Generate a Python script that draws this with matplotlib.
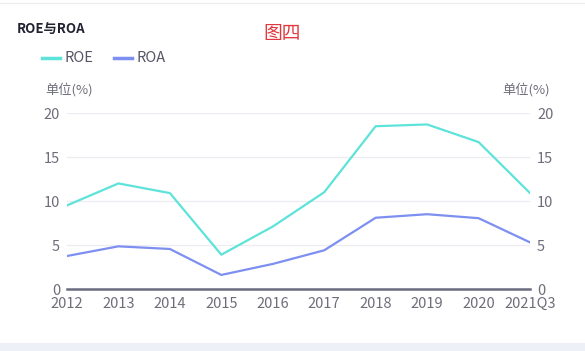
import matplotlib
matplotlib.use("Agg")
import matplotlib.pyplot as plt
from matplotlib.patches import Rectangle
from matplotlib.lines import Line2D

plt.rcParams['font.family'] = ['Noto Sans CJK SC', 'DejaVu Sans']

years = ['2012', '2013', '2014', '2015', '2016', '2017', '2018', '2019', '2020', '2021Q3']
roe = [9.5, 12.0, 10.9, 3.9, 7.1, 11.0, 18.5, 18.7, 16.7, 10.9]
roa = [3.75, 4.85, 4.55, 1.6, 2.85, 4.4, 8.1, 8.5, 8.05, 5.3]
yticks = [0, 5, 10, 15, 20]

c_roe = '#5de3d9'
c_roa = '#7d8ff0'
c_tick = '#6e6e7a'

fig = plt.figure(figsize=(5.85, 3.51), dpi=100)
ax = fig.add_axes([0.1145, 0.1766, 0.7915, 0.5014])

x = list(range(len(years)))
ax.plot(x, roe, color=c_roe, lw=1.6)
ax.plot(x, roa, color=c_roa, lw=1.6)

ax.set_xlim(0, len(years) - 1)
ax.set_ylim(0, 20)
ax.set_yticks(yticks)
ax.set_xticks(x)
ax.set_xticklabels(years)
ax.grid(axis='y', color='#ececf2', lw=0.9)
ax.set_axisbelow(True)
for s in ['top', 'right', 'left']:
    ax.spines[s].set_visible(False)
ax.spines['bottom'].set_color('#6b6b80')
ax.spines['bottom'].set_linewidth(1.8)
ax.tick_params(axis='x', length=0, labelsize=10.5, labelcolor=c_tick, pad=6)
ax.tick_params(axis='y', length=0, labelsize=10.5, labelcolor=c_tick, pad=5)

ax2 = ax.twinx()
ax2.set_ylim(0, 20)
ax2.set_yticks(yticks)
for s in ['top', 'right', 'left', 'bottom']:
    ax2.spines[s].set_visible(False)
ax2.tick_params(length=0, labelsize=10.5, labelcolor=c_tick, pad=5)

# titles and unit labels
fig.text(17 / 585, 1 - 29 / 351, 'ROE与ROA', fontsize=9.5, fontweight='bold',
         color='#222233', va='center', ha='left')
fig.text(263 / 585, 1 - 33 / 351, '图四', fontsize=13.5, color='#e0383e',
         va='center', ha='left')
fig.text(45 / 585, 1 - 90 / 351, '单位(%)', fontsize=9.5, color=c_tick,
         va='center', ha='left')
fig.text(550 / 585, 1 - 90 / 351, '单位(%)', fontsize=9.5, color=c_tick,
         va='center', ha='right')

# legend
for x0, col, lab in [(42, c_roe, 'ROE'), (114, c_roa, 'ROA')]:
    fig.add_artist(Line2D([x0 / 585, (x0 + 18) / 585], [1 - 58 / 351] * 2,
                          color=col, lw=2.5, transform=fig.transFigure))
    fig.text((x0 + 23) / 585, 1 - 58 / 351, lab, fontsize=10.5, color='#555566',
             va='center', ha='left')

# page decorations
fig.add_artist(Rectangle((0, 0), 1, 8 / 351, transform=fig.transFigure,
                         color='#eef0f7', lw=0))
fig.add_artist(Line2D([0, 1], [1 - 3 / 351] * 2, color='#eeeeee', lw=1,
                      transform=fig.transFigure))

fig.savefig('out.png', dpi=100)
